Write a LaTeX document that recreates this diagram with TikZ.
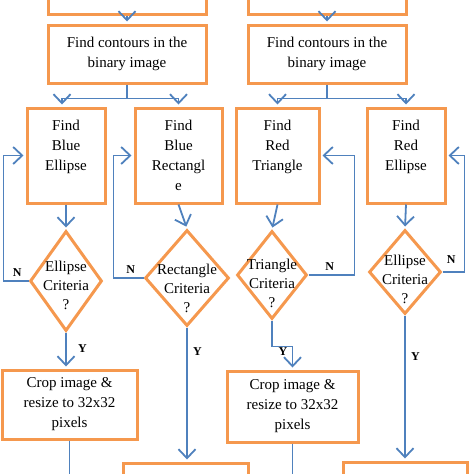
\documentclass[tikz,border=0pt]{standalone}
\usepackage{fontspec}
\setmainfont{Liberation Serif}
\usetikzlibrary{shapes.geometric,arrows.meta}
\definecolor{boxorange}{RGB}{245,152,78}
\definecolor{flowblue}{RGB}{79,129,189}

\begin{document}
\begin{tikzpicture}[x=1pt,y=-1pt,
  box/.style={draw=boxorange, line width=3pt, rectangle, align=center, font=\fontsize{15}{20}\selectfont},
  crit/.style={draw=boxorange, line width=3pt, diamond, inner sep=0pt},
  crittext/.style={align=center, font=\fontsize{15}{19}\selectfont},
  flow/.style={draw=flowblue, line width=1.8pt},
  arr/.style={flow, -{Straight Barb[length=9pt,width=17pt]}, shorten >=2pt},
  yn/.style={font=\fontsize{12}{12}\selectfont\bfseries}]

  % Frame of the cut-out
  \useasboundingbox (0,0) rectangle (474,474);
  \clip (0,0) rectangle (474,474);

  % Boxes at the top
  \node[box, minimum width=158pt, minimum height=48pt] (topL) at (127,-10) {};
  \node[box, minimum width=158pt, minimum height=48pt] (topR) at (327,-10) {};
  \node[box, minimum width=158pt, minimum height=58pt] (contL) at (127,54) {Find contours in the\\binary image};
  \node[box, minimum width=158pt, minimum height=58pt] (contR) at (327,54) {Find contours in the\\binary image};

  % Find boxes
  \node[box, minimum width=78pt, minimum height=95pt] (fbe) at (66,155.5) {Find\\Blue\\Ellipse\\\mbox{}};
  \node[box, minimum width=87pt, minimum height=95pt] (fbr) at (178.5,155.5) {Find\\Blue\\Rectangl\\e};
  \node[box, minimum width=83pt, minimum height=95pt] (frt) at (277.5,155.5) {Find\\Red\\Triangle\\\mbox{}};
  \node[box, minimum width=78pt, minimum height=95pt] (fre) at (406,155.5) {Find\\Red\\Ellipse\\\mbox{}};

  % Criteria
  \node[crit, minimum width=72pt, minimum height=100pt] (d1) at (66,281) {};
  \node[crit, minimum width=84pt, minimum height=96pt] (d2) at (187,278) {};
  \node[crit, minimum width=70pt, minimum height=88pt] (d3) at (272,275) {};
  \node[crit, minimum width=72pt, minimum height=84pt] (d4) at (405,272) {};
  \node[crittext] at ([yshift=-4pt]d1.center) {Ellipse\\Criteria\\?};
  \node[crittext] at ([yshift=-10pt]d2.center) {Rectangle\\Criteria\\?};
  \node[crittext] at ([yshift=-8pt]d3.center) {Triangle\\Criteria\\?};
  \node[crittext] at ([yshift=-7pt]d4.center) {Ellipse\\Criteria\\?};

  % Crop boxes and the ones below
  \node[box, minimum width=135pt, minimum height=69pt] (crop1) at (69.5,404.5) {Crop image \&\\resize to 32x32\\pixels};
  \node[box, minimum width=131pt, minimum height=71pt] (crop2) at (292.5,406.5) {Crop image \&\\resize to 32x32\\pixels};
  \node[box, minimum width=125pt, minimum height=60pt] (b2) at (185.5,493) {};
  \node[box, minimum width=124pt, minimum height=60pt] (b4) at (405,492) {};

  % Arrows down
  \draw[arr] (topL.south) -- (contL.north);
  \draw[arr] (topR.south) -- (contR.north);
  \draw[flow] (contL.south) -- ++(0,14) coordinate (jL);
  \draw[flow] (contR.south) -- ++(0,14) coordinate (jR);
  \draw[arr] (jL) -| ([xshift=-4pt]fbe.north);
  \draw[arr] (jL) -| (fbr.north);
  \draw[arr] (jR) -| (frt.north);
  \draw[arr] (jR) -| (fre.north);
  \draw[arr] (fbe.south) -- (d1.north);
  \draw[arr] (fbr.south) -- (d2.north);
  \draw[arr] (frt.south) -- (d3.north);
  \draw[arr] (fre.south) -- (d4.north);

  % No loops
  \draw[arr] (d1.west) -- node[yn, pos=0.45, above] {N} ++(-25,0) |- (fbe.west);
  \draw[arr] (d2.west) -- node[yn, pos=0.43, above] {N} ++(-30,0) |- (fbr.west);
  \draw[arr] (d3.east) -- node[yn, pos=0.46, above] {N} ++(46,0) |- (frt.east);
  \draw[arr] (d4.east) -- node[yn, pos=0.4, above=4pt] {N} ++(22,0) |- (fre.east);

  % Yes arrows
  \draw[arr] (d1.south) -- node[yn, pos=0.44, right=8pt] {Y} (d1.south |- crop1.north);
  \draw[arr] (d2.south) -- node[yn, pos=0.18, right=2pt] {Y} (d2.south |- b2.north);
  \draw[arr] (d3.south) -- ++(0,26) -| node[yn, pos=0.62, left=1pt] {Y} (crop2.north);
  \draw[arr] (d4.south) -- node[yn, pos=0.28, right=2pt] {Y} (d4.south |- b4.north);
  \draw[flow] (crop1.south) -- ++(0,40);
  \draw[flow] (crop2.south) -- ++(0,40);
\end{tikzpicture}
\end{document}
